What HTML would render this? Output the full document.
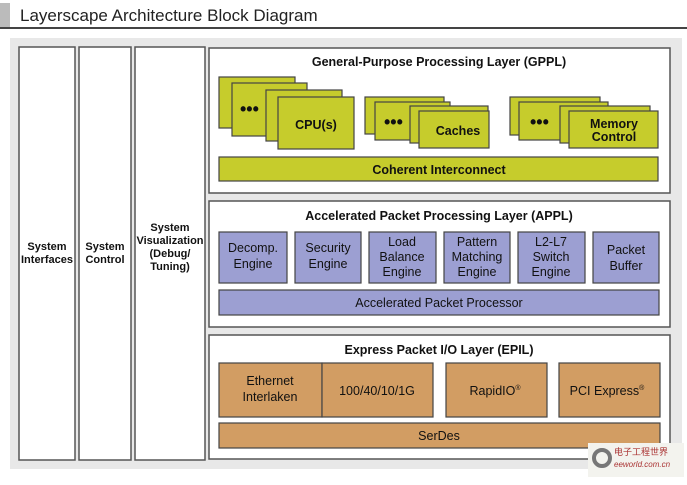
<!DOCTYPE html>
<html><head><style>
body{margin:0;width:687px;height:480px;background:#fff;overflow:hidden}
svg text{font-family:"Liberation Sans",Arial,sans-serif}
</style></head><body>
<svg width="687" height="480" xmlns="http://www.w3.org/2000/svg">
<rect x="0" y="3" width="10" height="24" fill="#bbb"/>
<text x="20" y="21" font-size="17" fill="#222">Layerscape Architecture Block Diagram</text>
<rect x="0" y="27" width="687" height="2" fill="#444"/>
<rect x="10" y="38" width="672" height="431" fill="#e8e8e8"/>
<g fill="#fff" stroke="#555" stroke-width="1.5">
<rect x="19" y="47" width="56" height="413"/>
<rect x="79" y="47" width="52" height="413"/>
<rect x="135" y="47" width="70" height="413"/>
<rect x="209" y="48" width="461" height="145"/>
<rect x="209" y="201" width="461" height="126"/>
<rect x="209" y="335" width="461" height="124"/>
</g>
<g font-size="11" font-weight="bold" text-anchor="middle" fill="#111">
<text x="47" y="250">System</text><text x="47" y="263">Interfaces</text>
<text x="105" y="250">System</text><text x="105" y="263">Control</text>
<text x="170" y="231">System</text><text x="170" y="244">Visualization</text><text x="170" y="257">(Debug/</text><text x="170" y="270">Tuning)</text>
</g>
<g font-size="12.5" font-weight="bold" text-anchor="middle" fill="#111">
<text x="439" y="66">General-Purpose Processing Layer (GPPL)</text>
<text x="439" y="220">Accelerated Packet Processing Layer (APPL)</text>
<text x="439" y="354">Express Packet I/O Layer (EPIL)</text>
</g>
<g fill="#c6cc2c" stroke="#444" stroke-width="1.2">
<rect x="219" y="77" width="76" height="51"/>
<rect x="232" y="83" width="75" height="53"/>
<rect x="266" y="90" width="76" height="51"/>
<rect x="278" y="97" width="76" height="52"/>
<rect x="365" y="97" width="79" height="37"/>
<rect x="375" y="102" width="75" height="38"/>
<rect x="410" y="106" width="78" height="37"/>
<rect x="419" y="111" width="70" height="37"/>
<rect x="510" y="97" width="90" height="38"/>
<rect x="519" y="102" width="89" height="38"/>
<rect x="560" y="106" width="90" height="37"/>
<rect x="569" y="111" width="89" height="37"/>
<rect x="219" y="157" width="439" height="24"/>
</g>
<g font-size="18" font-weight="bold" fill="#111"><text x="240" y="115">•••</text><text x="384" y="128">•••</text><text x="530" y="128">•••</text></g>
<g font-size="12.5" font-weight="bold" text-anchor="middle" fill="#111">
<text x="316" y="129">CPU(s)</text>
<text x="458" y="135">Caches</text>
<text x="614" y="128">Memory</text><text x="614" y="141">Control</text>
<text x="439" y="174">Coherent Interconnect</text>
</g>
<g fill="#9c9fd2" stroke="#444" stroke-width="1.2">
<rect x="219" y="232" width="68" height="51"/>
<rect x="295" y="232" width="66" height="51"/>
<rect x="369" y="232" width="67" height="51"/>
<rect x="444" y="232" width="66" height="51"/>
<rect x="518" y="232" width="67" height="51"/>
<rect x="593" y="232" width="66" height="51"/>
<rect x="219" y="290" width="440" height="25"/>
</g>
<g font-size="12.5" text-anchor="middle" fill="#111">
<text x="253" y="252">Decomp.</text><text x="253" y="268">Engine</text>
<text x="328" y="252">Security</text><text x="328" y="268">Engine</text>
<text x="402" y="246">Load</text><text x="402" y="261">Balance</text><text x="402" y="276">Engine</text>
<text x="477" y="246">Pattern</text><text x="477" y="261">Matching</text><text x="477" y="276">Engine</text>
<text x="551" y="246">L2-L7</text><text x="551" y="261">Switch</text><text x="551" y="276">Engine</text>
<text x="626" y="254">Packet</text><text x="626" y="270">Buffer</text>
<text x="439" y="307">Accelerated Packet Processor</text>
</g>
<g fill="#d29d63" stroke="#444" stroke-width="1.2">
<rect x="219" y="363" width="103" height="54"/>
<rect x="322" y="363" width="111" height="54"/>
<rect x="446" y="363" width="101" height="54"/>
<rect x="559" y="363" width="101" height="54"/>
<rect x="219" y="423" width="441" height="25"/>
</g>
<g font-size="12.5" text-anchor="middle" fill="#111">
<text x="270" y="385">Ethernet</text><text x="270" y="401">Interlaken</text>
<text x="377" y="395">100/40/10/1G</text>
<text x="495" y="395">RapidIO<tspan font-size="7" dy="-5">®</tspan></text>
<text x="607" y="395">PCI Express<tspan font-size="7" dy="-5">®</tspan></text>
<text x="439" y="440">SerDes</text>
</g>
<rect x="588" y="443" width="96" height="34" fill="#f3f3ee"/>
<circle cx="602" cy="458" r="8" fill="none" stroke="#777" stroke-width="4"/>
<text x="614" y="455" font-size="9" fill="#a33" font-family="'Noto Sans CJK SC',sans-serif">电子工程世界</text>
<text x="614" y="467" font-size="8" font-style="italic" fill="#a33">eeworld.com.cn</text>
</svg>
</body></html>
